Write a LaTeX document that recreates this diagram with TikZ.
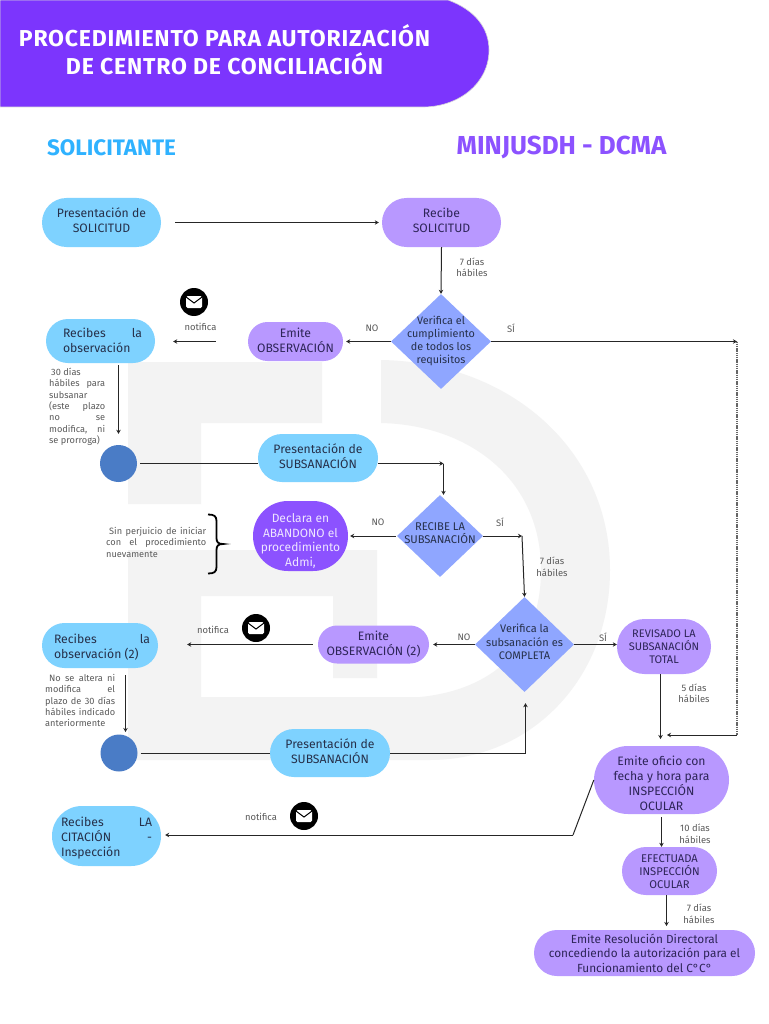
\documentclass[tikz,border=0pt]{standalone}
\usepackage{fontspec}
\setmainfont{Fira Sans}
\newfontfamily\titlefont[LetterSpace=3.5]{Fira Sans}
\usetikzlibrary{shapes.geometric,shapes.misc,arrows.meta}
\definecolor{header}{HTML}{7C35FD}
\definecolor{sky}{HTML}{7ED2FF}
\definecolor{skyhead}{HTML}{2FB2FF}
\definecolor{lilac}{HTML}{B898FF}
\definecolor{violet}{HTML}{8C52FF}
\definecolor{periw}{HTML}{8FA6FF}
\definecolor{dotc}{HTML}{4A7CC6}
\definecolor{ink}{HTML}{26304A}
\definecolor{inkv}{HTML}{2E2558}
\definecolor{mute}{HTML}{5A5A5A}
\definecolor{wmark}{HTML}{F3F3F3}
\newcommand{\jl}[2]{\makebox[#1pt][s]{#2}}
\tikzset{
  arr/.style={line width=1pt,black!85,-{Stealth[length=4pt,width=4.5pt]}},
  lin/.style={line width=1pt,black!85},
  bluen/.style={rounded rectangle,fill=sky,text=ink,inner sep=0pt,align=center,font=\fontsize{12.2}{15}\selectfont},
  lila/.style={rounded rectangle,fill=lilac,text=inkv,inner sep=0pt,align=center,font=\fontsize{12.2}{15}\selectfont},
  dia/.style={diamond,fill=periw,inner sep=0pt},
  dtxt/.style={text=ink,align=center,inner sep=0pt,font=\fontsize{10.8}{13}\selectfont},
  notet/.style={text=mute,align=left,inner sep=0pt,anchor=north west,font=\fontsize{9.2}{11.35}\selectfont},
  lab/.style={text=mute,align=center,inner sep=0pt,font=\fontsize{9.4}{11.5}\selectfont},
  dotn/.style={circle,fill=dotc,inner sep=0pt,minimum size=37pt},
  mail/.pic={
    \fill[black] (0,0) circle (14);
    \fill[white,rounded corners=1.5pt] (-8,-6) rectangle (8,6);
    \draw[black,line width=1pt] (-8,-5) -- (0,1) -- (8,-5);
  }
}
\begin{document}
\begin{tikzpicture}[x=1pt,y=-1pt]
\useasboundingbox (0,0) rectangle (768,1024);
\fill[white] (0,0) rectangle (768,1024);

% watermark
\fill[wmark] (128,362) -- (322,362) -- (322,423) -- (201,423) -- (201,504) -- (128,504) -- cycle;
\fill[wmark] (128,550) -- (377,550) -- (377,678) -- (333,678) -- (333,596) -- (201,596) -- (201,697)
  -- (420,697) .. controls (490,690) and (541,650) .. (541,570)
  .. controls (541,480) and (470,425) .. (381,423)
  -- (381,360) .. controls (510,362) and (610,450) .. (610,570)
  .. controls (610,680) and (530,760) .. (430,760) -- (128,760) -- cycle;

% header
\fill[header,draw=black!15,line width=.6pt] (0,0) -- (448,0) .. controls (475,10) and (489,28) .. (489,50)
  .. controls (489,84) and (458,107) .. (423,107) -- (0,107) -- cycle;
\node[text=white,align=center,inner sep=0pt,font=\titlefont\bfseries\fontsize{23}{27.5}\selectfont] (title) at (224.5,49.5)
  {PROCEDIMIENTO PARA AUTORIZACIÓN\\DE CENTRO DE CONCILIACIÓN};
\node[text=skyhead,inner sep=0pt,font=\bfseries\fontsize{22.4}{26}\selectfont] (hsol) at (111.5,147.5) {SOLICITANTE};
\node[text=violet,inner sep=0pt,font=\bfseries\fontsize{26}{30}\selectfont] (hmin) at (561.5,147.5) {MINJUSDH - DCMA};

% left and right column nodes
\node[bluen,minimum width=119pt,minimum height=49pt,text depth=4.5pt] (psol) at (101.5,222.5) {Presentación de\\SOLICITUD};
\node[lila,minimum width=119pt,minimum height=49pt,text depth=4.5pt] (rsol) at (441.5,222.5) {Recibe\\SOLICITUD};
\node[dia,minimum width=100pt,minimum height=95pt,label={[dtxt,yshift=1pt]center:Verifica el\\cumplimiento\\de todos los\\requisitos}] (d1) at (441,341.5) {};
\node[lila,minimum width=95pt,minimum height=39pt,text depth=2pt] (eobs) at (295.5,341.5) {Emite\\OBSERVACIÓN};
\node[bluen,minimum width=109pt,minimum height=44pt,text depth=2pt] (robs) at (100.5,341) {\hspace*{4pt}\jl{79}{Recibes la}\\[-.2pt]\hspace*{4pt}\makebox[79pt][l]{observación}};
\node[dotn] (c1) at (118.5,463.5) {};
\node[bluen,minimum width=120pt,minimum height=48pt,text depth=4.5pt] (psub) at (318,458) {Presentación de\\SUBSANACIÓN};
\node[dia,minimum width=86pt,minimum height=82pt,label={[dtxt,yshift=3pt,font=\fontsize{11.2}{13}\selectfont]center:RECIBE LA\\SUBSANACIÓN}] (d2) at (440,536) {};
\node[rectangle,rounded corners=34.9pt,fill=violet,text=white!85!violet,inner sep=0pt,align=center,font=\fontsize{12}{14.7}\selectfont,minimum width=95pt,minimum height=70pt,text height=63pt] (aban) at (300.5,536)
  {Declara en\\ABANDONO el\\procedimiento\\Admi,};
\node[dia,minimum width=99pt,minimum height=95pt,label={[dtxt,yshift=2.5pt,font=\fontsize{11}{13.5}\selectfont]center:Verifica la\\subsanación es\\COMPLETA}] (d3) at (524.5,644.5) {};
\node[lila,minimum width=111pt,minimum height=38pt] (eobb) at (373.5,644.5) {Emite\\OBSERVACIÓN (2)};
\node[bluen,minimum width=116pt,minimum height=45pt,text height=27pt] (robb) at (100,645.5) {\hspace*{4pt}\jl{96}{Recibes la}\\\hspace*{4pt}\makebox[96pt][l]{observación (2)}};
\node[dotn] (c2) at (119,753) {};
\node[bluen,minimum width=120pt,minimum height=48pt,text depth=4.5pt] (psuc) at (330,753) {Presentación de\\SUBSANACIÓN};
\node[lila,minimum width=94pt,minimum height=55pt,font=\fontsize{11}{13}\selectfont] (rev) at (664,646.5) {REVISADO LA\\SUBSANACIÓN\\TOTAL};
\node[lila,minimum width=135pt,minimum height=68pt,text height=61pt] (ofi) at (661.5,780) {Emite oficio con\\fecha y hora para\\INSPECCIÓN\\OCULAR};
\node[rectangle,rounded corners=29.9pt,fill=sky,text=ink,inner sep=0pt,align=center,font=\fontsize{12.2}{15}\selectfont,minimum width=109pt,minimum height=60pt,text height=43pt] (rcit) at (106.5,836) {\jl{91}{Recibes LA}\\\jl{91}{CITACIÓN -}\\\makebox[91pt][l]{Inspección}};
\node[lila,minimum width=95pt,minimum height=48pt,font=\fontsize{11.2}{13}\selectfont,text height=36pt] (efe) at (669.5,871) {EFECTUADA\\INSPECCIÓN\\OCULAR};
\node[lila,minimum width=221pt,minimum height=46pt,font=\fontsize{11.8}{14.5}\selectfont] (res) at (644.5,953) {Emite Resolución Directoral\\concediendo la autorización para el\\Funcionamiento del C°C°};

% labels
\node[lab] (l1) at (472,267.5) {7 días\\hábiles};
\node[lab] (l2) at (552,567) {7 días\\hábiles};
\node[lab] (l3) at (694,693.5) {5 días\\hábiles};
\node[lab] (l4) at (695,834) {10 días\\hábiles};
\node[lab] (l5) at (699,914) {7 días\\hábiles};
\node[lab] (no1) at (372,328) {NO};
\node[lab] (si1) at (511,328) {SÍ};
\node[lab] (no2) at (378,522) {NO};
\node[lab] (si2) at (500,522) {SÍ};
\node[lab] (no3) at (464,637) {NO};
\node[lab] (si3) at (603,637) {SÍ};
\node[lab] (n1) at (200.5,327) {notifica};
\node[lab] (n2) at (213,630) {notifica};
\node[lab] (n3) at (261,817) {notifica};
\node[notet] (t1) at (49,368) {\hspace*{2pt}30 días\\\jl{56}{hábiles para}\\subsanar\\\jl{56}{(este plazo}\\\jl{56}{no se}\\\jl{56}{modifica, ni}\\se prorroga)};
\node[notet] (t2) at (106,527) {\jl{100}{\hspace*{3pt}Sin perjuicio de iniciar}\\\jl{100}{con el procedimiento}\\nuevamente};
\node[notet] (t3) at (45,674) {\jl{70}{\hspace*{4pt}No se altera ni}\\\jl{70}{modifica el}\\\jl{70}{plazo de 30 días}\\\jl{70}{hábiles indicado}\\anteriormente};

% mail icons
\pic at (194,302) {mail};
\pic at (256,628) {mail};
\pic at (304,816) {mail};

% brace
\draw[black,line width=1.8pt] (208,514.5) .. controls (214,514.5) and (216.5,516) .. (216.5,521) -- (216.5,538)
  .. controls (216.5,542) and (218,544) .. (223,544) .. controls (218,544) and (216.5,546) .. (216.5,550)
  -- (216.5,567) .. controls (216.5,572) and (214,573.5) .. (208,573.5);

% connectors
\coordinate (k0) at (161,222.5);
\coordinate (k1) at (443.5,463.5);
\coordinate (k2) at (522,536);
\coordinate (k3) at (525.5,753);
\coordinate (k4) at (737,341.5);
\coordinate (k5) at (737,735);
\coordinate (k6) at (660.5,739);
\coordinate (k7) at (573,835);
\coordinate (k8) at (666.5,895);
\coordinate (k9) at (666.5,928);
\coordinate (k10) at (667,735);
\coordinate (k11) at (125.5,668);
\coordinate (k12) at (125.5,732);
\draw[arr,shorten <=14pt,shorten >=3pt] (k0) -- (rsol.west);
\draw[arr] (rsol.south) -- (d1.north);
\draw[arr,shorten >=3pt] (d1.west) -- (eobs.east);
\draw[arr,shorten <=32pt,shorten >=18pt] (eobs.west) -- (eobs.west -| robs.east);
\draw[arr,shorten <=2pt,shorten >=11pt] (robs.south -| c1.north) -- (c1.north);
\draw[lin,shorten <=3pt] (c1.east) -- (psub.west |- c1.east);
\draw[arr] (psub.east |- c1.east) -- (k1);
\draw[arr] (k1) -- (d2.north -| k1);
\draw[arr,shorten <=1pt,shorten >=2pt] (d2.west) -- (aban.east);
\draw[lin,-{Stealth[length=4pt,width=4.5pt]}] (d2.east) -- (k2);
\draw[arr] (k2) -- (d3.north);
\draw[arr,shorten >=4pt] (d3.west) -- (eobb.east);
\draw[arr,shorten <=5pt,shorten >=29pt] (eobb.west) -- (eobb.west -| robb.east);
\draw[arr,shorten <=7pt] (k11) -- (k12);
\draw[lin,shorten <=3pt] (c2.east) -- (psuc.west);
\draw[lin] (psuc.east) -- (k3);
\draw[arr,shorten >=11pt] (k3) -- (d3.south -| k3);
\draw[arr] (d3.east) -- (d3.east -| rev.west);
\draw[arr] (rev.south -| k6) -- (k6);
\draw[arr] (d1.east) -- (k4);
\draw[line width=1.3pt,black!60,dash pattern=on 1.5pt off .7pt] (k4) -- (k5);
\draw[arr] (k5) -- (k10);
\draw[lin] (ofi.west) -- (k7);
\draw[arr,shorten >=4pt] (k7) -- (rcit.east |- k7);
\draw[arr,shorten <=3pt] (ofi.south) -- (efe.north -| ofi.south);
\draw[arr,shorten >=2pt] (k8) -- (k9);
\end{tikzpicture}
\end{document}
